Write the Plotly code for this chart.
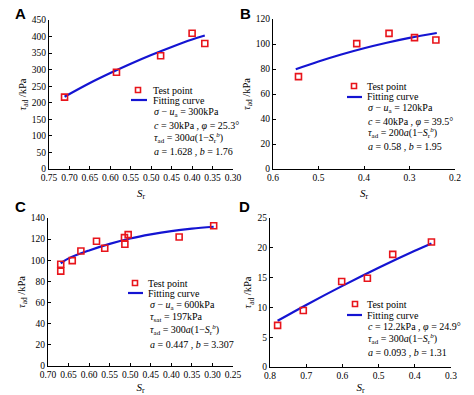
import plotly.graph_objects as go

W, H = 474, 395
SERIF = "Liberation Serif"

# ---------------- data ----------------
# Panel A
a_sr_pts = [0.712, 0.585, 0.477, 0.400, 0.369]
a_tau_pts = [217, 292, 342, 410, 379]
a_sr_fit = [0.712, 0.65, 0.60, 0.55, 0.50, 0.45, 0.40, 0.369]
a_tau_fit = [218, 259.5, 289.6, 317.9, 344.2, 368.6, 391.1, 403]

# Panel B
b_sr_pts = [0.544, 0.416, 0.345, 0.289, 0.242]
b_tau_pts = [73.9, 100.3, 108.5, 105.1, 103.2]
b_sr_fit = [0.55, 0.50, 0.45, 0.40, 0.35, 0.30, 0.24]
b_tau_fit = [79.8, 86.0, 91.6, 96.6, 101.0, 104.9, 108.8]

# Panel C
c_sr_pts = [0.669, 0.669, 0.641, 0.620, 0.582, 0.562, 0.514, 0.513, 0.505, 0.381, 0.297]
c_tau_pts = [96.3, 89.7, 99.7, 108.8, 118.0, 111.4, 121.4, 115.1, 124.3, 122.0, 132.7]
c_sr_fit = [0.669, 0.65, 0.60, 0.55, 0.50, 0.45, 0.40, 0.35, 0.297]
c_tau_fit = [97.2, 101.8, 109.3, 115.5, 120.6, 124.5, 127.6, 129.9, 131.7]

# Panel D
d_sr_pts = [0.779, 0.708, 0.602, 0.531, 0.461, 0.354]
d_tau_pts = [6.98, 9.49, 14.34, 14.9, 18.9, 20.98]
d_sr_fit = [0.779, 0.70, 0.60, 0.50, 0.40, 0.354]
d_tau_fit = [7.75, 10.41, 13.61, 16.65, 19.5, 20.74]

panel_labels = ["A", "B", "C", "D"]
legend_names = ["Test point", "Fitting curve"]
a_notes = ["<i>σ</i> − <i>u</i><sub>a</sub> = 300kPa",
           "<i>c</i> = 30kPa , <i>φ</i> = 25.3°",
           "<i>τ</i><sub>ad</sub> = 300<i>a</i>(1−<i>S</i><sub>r</sub><sup><i>b</i></sup>)",
           "<i>a</i> = 1.628 , <i>b</i> = 1.76"]
b_notes = ["<i>σ</i> − <i>u</i><sub>a</sub> = 120kPa",
           "<i>c</i> = 40kPa , <i>φ</i> = 39.5°",
           "<i>τ</i><sub>ad</sub> = 200<i>a</i>(1−<i>S</i><sub>r</sub><sup><i>b</i></sup>)",
           "<i>a</i> = 0.58 , <i>b</i> = 1.95"]
c_notes = ["<i>σ</i> − <i>u</i><sub>a</sub> = 600kPa",
           "<i>τ</i><sub>sat</sub> = 197kPa",
           "<i>τ</i><sub>ad</sub> = 300<i>a</i>(1−<i>S</i><sub>r</sub><sup><i>b</i></sup>)",
           "<i>a</i> = 0.447 , <i>b</i> = 3.307"]
d_notes = ["<i>c</i> = 12.2kPa , <i>φ</i> = 24.9°",
           "<i>τ</i><sub>ad</sub> = 300<i>a</i>(1−<i>S</i><sub>r</sub><sup><i>b</i></sup>)",
           "<i>a</i> = 0.093 , <i>b</i> = 1.31"]

# ---------------- layout helpers ----------------
def px(x):
    return x / W

def py(y):
    return 1 - y / H

RED = "#e8141b"
BLUE = "#1414d2"
TXT = 10

panels = [
    dict(sx=a_sr_pts, sy=a_tau_pts, fx=a_sr_fit, fy=a_tau_fit, notes=a_notes,
         box=(49, 233, 20, 169), xr=[0.75, 0.30], dx=0.05, xf=".2f", yr=[0, 450], dy=50,
         lab=(20, 14), mk=(138, 131, 147, 151, 152), rows=[90, 100, 113, 126, 138, 151]),
    dict(sx=b_sr_pts, sy=b_tau_pts, fx=b_sr_fit, fy=b_tau_fit, notes=b_notes,
         box=(273, 455, 19, 169), xr=[0.6, 0.2], dx=0.1, xf=".1f", yr=[0, 120], dy=20,
         lab=(245, 14), mk=(354, 347, 362, 365, 366), rows=[86, 97, 108, 121, 133, 146]),
    dict(sx=c_sr_pts, sy=c_tau_pts, fx=c_sr_fit, fy=c_tau_fit, notes=c_notes,
         box=(48, 233, 218, 366), xr=[0.70, 0.25], dx=0.05, xf=".2f", yr=[0, 140], dy=20,
         lab=(20, 206), mk=(135, 128, 143, 146, 148), rows=[283, 293, 305, 317, 330, 344]),
    dict(sx=d_sr_pts, sy=d_tau_pts, fx=d_sr_fit, fy=d_tau_fit, notes=d_notes,
         box=(270, 451, 218, 367), xr=[0.8, 0.3], dx=0.1, xf=".1f", yr=[0, 25], dy=5,
         lab=(244, 206), mk=(355, 347, 362, 365, 366), rows=[304, 315, 326, 339, 352]),
]

fig = go.Figure()
annotations = []
shapes = []
layout_axes = {}

for i, p in enumerate(panels, start=1):
    xa = "x" if i == 1 else f"x{i}"
    ya = "y" if i == 1 else f"y{i}"
    xkey = "xaxis" if i == 1 else f"xaxis{i}"
    ykey = "yaxis" if i == 1 else f"yaxis{i}"
    x0, x1, y0, y1 = p["box"]

    fig.add_trace(go.Scatter(x=p["fx"], y=p["fy"], mode="lines", line=dict(color=BLUE, width=2.2, shape="spline"),
                             name=legend_names[1], xaxis=xa, yaxis=ya, showlegend=False))
    fig.add_trace(go.Scatter(x=p["sx"], y=p["sy"], mode="markers",
                             marker=dict(symbol="square-open", size=6, color=RED, line=dict(width=1.6, color=RED)),
                             name=legend_names[0], xaxis=xa, yaxis=ya, showlegend=False))

    common = dict(showgrid=False, zeroline=False, showline=True, linecolor="black", linewidth=1,
                  ticks="inside", ticklen=3, tickwidth=1, tickcolor="black", automargin=False,
                  tickfont=dict(family=SERIF, size=9.5, color="black"))
    layout_axes[xkey] = dict(domain=[px(x0), px(x1)], anchor=ya, range=p["xr"], dtick=p["dx"],
                             tick0=0, tickformat=p["xf"],
                             title=dict(text="<i>S</i><sub>r</sub>", font=dict(family=SERIF, size=11, color="black"),
                                        standoff=6), **common)
    layout_axes[ykey] = dict(domain=[py(y1), py(y0)], anchor=xa, range=p["yr"], dtick=p["dy"], tick0=0,
                             title=dict(text="<i>τ</i><sub>ad</sub> /kPa", font=dict(family=SERIF, size=10.5, color="black"),
                                        standoff=3), **common)

    # panel label
    lx, ly = p["lab"]
    annotations.append(dict(text=f"<b>{panel_labels[i-1]}</b>", x=px(lx), y=py(ly), xref="paper", yref="paper",
                            showarrow=False, xanchor="center", yanchor="middle",
                            font=dict(family="Liberation Sans", size=15, color="black")))

    # legend key glyphs
    mx, lx0, lx1, tx, nx = p["mk"]
    rows = p["rows"]
    shapes.append(dict(type="rect", xref="paper", yref="paper",
                       x0=px(mx - 2.5), x1=px(mx + 2.5), y0=py(rows[0] + 2.5), y1=py(rows[0] - 2.5),
                       line=dict(color=RED, width=1.6)))
    shapes.append(dict(type="line", xref="paper", yref="paper",
                       x0=px(lx0), x1=px(lx1), y0=py(rows[1]), y1=py(rows[1]),
                       line=dict(color=BLUE, width=2.2)))
    for name, ry in zip(legend_names, rows[:2]):
        annotations.append(dict(text=name, x=px(tx), y=py(ry), xref="paper", yref="paper", showarrow=False,
                                xanchor="left", yanchor="middle", font=dict(family=SERIF, size=TXT, color="black")))
    for note, ry in zip(p["notes"], rows[2:]):
        annotations.append(dict(text=note, x=px(nx), y=py(ry), xref="paper", yref="paper", showarrow=False,
                                xanchor="left", yanchor="middle", font=dict(family=SERIF, size=TXT, color="black")))

fig.update_layout(template="none", width=W, height=H, margin=dict(l=0, r=0, t=0, b=0, pad=0),
                  paper_bgcolor="white", plot_bgcolor="white", showlegend=False,
                  annotations=annotations, shapes=shapes, **layout_axes)

fig.write_html("out.html", config={"displayModeBar": False},
               post_script="document.body.style.margin='0px';document.body.style.overflow='hidden';")
